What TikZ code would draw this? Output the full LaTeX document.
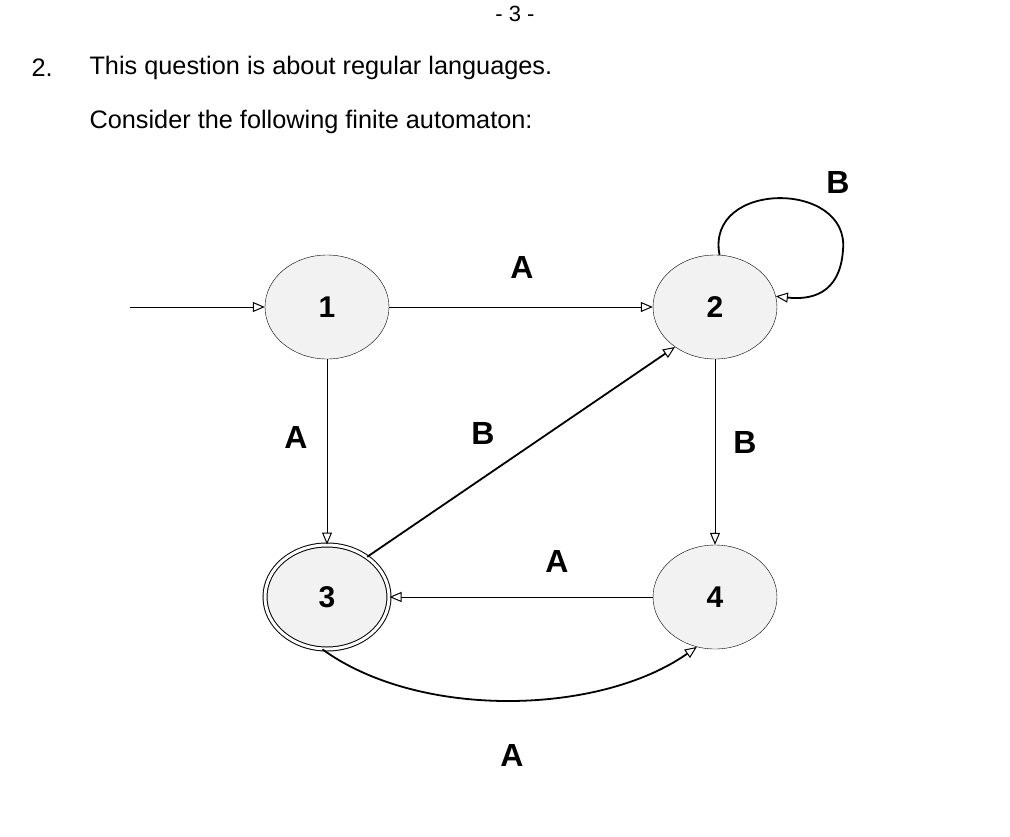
\documentclass[tikz,border=0pt]{standalone}
\usepackage{fontspec}
\setmainfont{Liberation Sans}
\usetikzlibrary{arrows.meta,shapes.geometric}
\begin{document}
\begin{tikzpicture}[x=1pt,y=-1pt,
  st/.style={draw,ellipse,fill=black!5,minimum width=124pt,minimum height=104pt,inner sep=0pt,font=\fontsize{30}{30}\selectfont\bfseries},
  lbl/.style={font=\fontsize{32}{32}\selectfont\bfseries},
  tx/.style={font=\fontsize{25.3}{28}\selectfont,anchor=west},
  tr/.style={line width=1pt,-{Triangle[open,length=12pt,width=10pt]}},
  cv/.style={line width=1.8pt,-{Triangle[open,length=12pt,width=10pt,line width=1pt]}}]
\useasboundingbox (0,0) rectangle (1010,836);
\node[font=\fontsize{22}{24}\selectfont] (pg) at (515,14) {- 3 -};
\node[tx] (q) at (28,68) {2.};
\node[tx] (t1) at (86,68) {This question is about regular languages.};
\node[tx] (t2) at (86,122) {Consider the following finite automaton:};
\node[st] (s1) at (327,307) {1};
\node[st] (s2) at (715,307) {2};
\node[st,double,double distance=3pt,line width=1pt] (s3) at (327,597) {3};
\node[st] (s4) at (715,597) {4};
\coordinate (in) at (130,307);
\draw[tr] (in) -- (s1);
\draw[tr] (s1) -- (s2);
\node[lbl] (l12) at (522,267) {A};
\draw[tr] (s1) -- (s3);
\node[lbl] (l13) at (296,437) {A};
\draw[tr] (s2) -- (s4);
\node[lbl] (l24) at (745,442) {B};
\draw[tr] (s4) -- (s3);
\node[lbl] (l43) at (557,561) {A};
\draw[cv] (s3.45) -- (s2.225);
\node[lbl] (l32) at (483,433) {B};
\draw[cv] (s3.-95) .. controls (420,720) and (600,715) .. (s4.-110);
\node[lbl] (la) at (512,755) {A};
\draw[cv] (s2.85) .. controls (705,180) and (850,180) .. (843,250) .. controls (840,295) and (810,300) .. (s2.10);
\node[lbl] (lb) at (838,182) {B};
\end{tikzpicture}
\end{document}
